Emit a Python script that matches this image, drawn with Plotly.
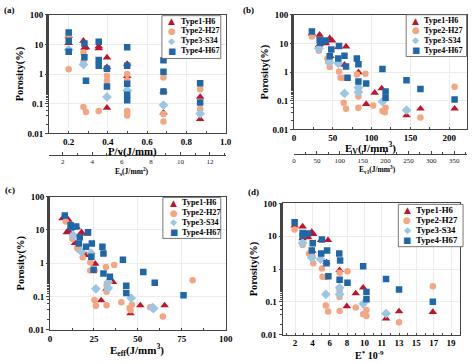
import plotly.graph_objects as go

W, H = 474, 364
def px(x): return x / W
def py(y): return 1 - y / H

FONT = "Liberation Serif"
C1, C2, C3, C4 = "#C0142A", "#F4A582", "#9CC6E2", "#1F67A8"
NAMES = ["Type1-H6", "Type2-H27", "Type3-S34", "Type4-H67"]

# ---------------- panel (a): P/v (J/mm) ----------------
a1_x = [0.2, 0.2, 0.275, 0.28, 0.288, 0.353, 0.353, 0.395, 0.395, 0.395, 0.498, 0.498, 0.683, 0.683, 0.87, 0.87]
a1_y = [19.3, 11.1, 13.2, 7.6, 8.0, 8.6, 7.4, 3.6, 1.7, 0.073, 2.2, 0.86, 0.26, 0.05, 0.17, 0.03]
a2_x = [0.2, 0.2, 0.275, 0.275, 0.275, 0.288, 0.353, 0.395, 0.395, 0.498, 0.498, 0.498, 0.498, 0.683, 0.683, 0.683, 0.87, 0.87]
a2_y = [17, 1.46, 5.3, 2.6, 0.078, 0.053, 0.057, 0.88, 0.59, 1.0, 0.62, 0.057, 0.04, 0.76, 0.045, 0.025, 0.31, 0.067]
a3_x = [0.2, 0.275, 0.395, 0.498, 0.683, 0.87]
a3_y = [6.6, 2.1, 0.17, 0.28, 0.09, 0.046]
a4_x = [0.2, 0.2, 0.2, 0.28, 0.28, 0.288, 0.353, 0.353, 0.353, 0.395, 0.395, 0.498, 0.498, 0.498, 0.498, 0.498, 0.683, 0.683, 0.683, 0.87, 0.87]
a4_y = [25, 13.2, 5.7, 10.8, 3.7, 0.6, 12.3, 3.0, 1.9, 1.5, 0.38, 8.0, 1.9, 0.47, 0.2, 0.13, 2.9, 1.2, 0.26, 0.49, 0.11]

# ---------------- panel (b): E_V (J/mm^3) ----------------
b1_x = [23, 33, 32, 41, 46, 49, 47, 57, 67, 65, 83, 93, 104, 113, 145, 163, 207]
b1_y = [22, 20, 8.5, 10, 15, 12.6, 3.6, 7.5, 7.8, 1.8, 0.98, 0.077, 0.19, 0.27, 0.031, 0.053, 0.053]
b2_x = [23, 32, 43, 46, 44, 58, 60, 63, 81, 92, 83, 83, 64, 67, 83, 102, 114, 117, 118, 163, 207]
b2_y = [17.6, 5.6, 3.0, 1.5, 2.3, 1.05, 0.63, 0.63, 0.83, 0.87, 0.14, 0.22, 0.085, 0.053, 0.057, 0.068, 0.044, 0.04, 0.057, 0.026, 0.31]
b3_x = [32, 46, 57, 65, 83, 83, 114, 145]
b3_y = [6.6, 2.2, 2.0, 0.18, 0.29, 0.2, 0.094, 0.047]
b4_x = [23, 33, 34, 41, 46, 48, 58, 57, 65, 67, 69, 81, 83, 83, 93, 114, 118, 118, 145, 163, 207]
b4_y = [26, 13.2, 10.5, 12.6, 3.6, 6.1, 8.1, 3.0, 3.7, 1.57, 0.64, 3.0, 1.89, 0.47, 0.4, 1.28, 0.21, 0.127, 0.52, 0.26, 0.11]

# ---------------- panel (c): E_eff (J/mm^3) ----------------
c1_x = [7.1, 10.4, 9.5, 10.4, 12.3, 15.1, 14.2, 17.9, 20.5, 21.0, 25.7, 32.2, 35.9, 29.1, 45.8, 51.4, 65.2]
c1_y = [22, 20, 8.5, 9.4, 11.3, 12.1, 4.0, 8.5, 1.76, 7.6, 0.96, 0.17, 0.27, 0.076, 0.031, 0.054, 0.054]
c2_x = [8.9, 12.7, 15.5, 16.5, 18.6, 22.9, 22.9, 25.3, 31.8, 36.5, 32.2, 32.2, 25.3, 26.1, 32.2, 40.6, 45.3, 46.6, 45.8, 57.0, 64.2, 81.2]
c2_y = [17.8, 5.4, 2.8, 2.5, 1.5, 1.05, 0.6, 0.6, 0.77, 0.89, 0.22, 0.14, 0.079, 0.053, 0.055, 0.067, 0.045, 0.057, 0.039, 0.048, 0.025, 0.31]
c3_x = [13.2, 17.9, 23.3, 26.1, 33.1, 33.1, 46.2, 58.3, 59.0]
c3_y = [6.8, 2.2, 2.0, 0.17, 0.27, 0.18, 0.09, 0.046, 0.044]
c4_x = [8.4, 11.7, 11.9, 14.9, 16.9, 16.4, 21.6, 20.5, 23.8, 23.5, 24.8, 29.8, 30.4, 30.4, 34.1, 41.5, 43.4, 43.4, 53.1, 59.6, 76.0]
c4_y = [27, 13.9, 11.9, 12.6, 6.0, 3.9, 8.5, 3.1, 3.9, 1.57, 0.64, 3.1, 1.97, 0.49, 0.39, 1.26, 0.21, 0.127, 0.54, 0.26, 0.11]

# ---------------- panel (d): E* 10^-9 (axis units) ----------------
d1_x = [1.95, 2.87, 2.87, 3.51, 3.93, 4.1, 4.0, 5.0, 5.8, 5.63, 7.14, 7.97, 9.0, 9.86, 12.5, 14.0, 17.9]
d1_y = [21, 19.7, 8.6, 9.2, 13.5, 11.5, 3.6, 7.6, 7.6, 1.6, 0.92, 0.073, 0.18, 0.27, 0.031, 0.051, 0.049]
d2_x = [1.95, 2.87, 3.62, 4.0, 4.1, 5.1, 5.17, 5.55, 7.14, 8.05, 7.14, 7.14, 5.55, 5.82, 7.14, 9.0, 9.86, 10.24, 10.24, 14.0, 17.9]
d2_y = [16, 5.4, 2.95, 2.5, 1.5, 1.03, 0.58, 0.57, 0.77, 0.86, 0.14, 0.22, 0.078, 0.051, 0.053, 0.067, 0.042, 0.057, 0.037, 0.024, 0.3]
d3_x = [2.87, 3.93, 4.95, 5.55, 7.14, 7.14, 9.86, 12.5]
d3_y = [6.2, 2.2, 2.0, 0.17, 0.27, 0.17, 0.087, 0.044]
d4_x = [1.95, 2.87, 2.87, 3.51, 4.04, 3.93, 5.1, 5.02, 5.7, 5.63, 5.85, 7.1, 7.2, 7.14, 8.05, 9.86, 10.24, 10.24, 12.5, 14.0, 17.9]
d4_y = [26.7, 12.6, 10.3, 12.0, 6.1, 3.7, 8.0, 2.95, 3.7, 1.5, 0.6, 2.95, 1.83, 0.47, 0.38, 1.21, 0.2, 0.12, 0.5, 0.24, 0.10]
d_tickvals = [2, 4, 6, 8, 10, 12, 14, 16, 18, 20]
d_ticktext = ["2", "4", "6", "8", "10", "11", "13", "15", "17", "19"]

y_tickvals = [0.01, 0.1, 1, 10, 100]
y_ticktext = ["0.01", "0.1", "1", "10", "100"]

STYLES = [
    dict(color=C1, symbol="triangle-up", size=7.5),
    dict(color=C2, symbol="circle", size=6.5),
    dict(color=C3, symbol="diamond", size=7.5),
    dict(color=C4, symbol="square", size=6.5),
]

panels = [
    ("x", "y", [(a1_x, a1_y), (a2_x, a2_y), (a3_x, a3_y), (a4_x, a4_y)]),
    ("x2", "y2", [(b1_x, b1_y), (b2_x, b2_y), (b3_x, b3_y), (b4_x, b4_y)]),
    ("x3", "y3", [(c1_x, c1_y), (c2_x, c2_y), (c3_x, c3_y), (c4_x, c4_y)]),
    ("x4", "y4", [(d1_x, d1_y), (d2_x, d2_y), (d3_x, d3_y), (d4_x, d4_y)]),
]

fig = go.Figure()
for xa, ya, series in panels:
    for k, (xs, ys) in enumerate(series):
        st = STYLES[k]
        fig.add_trace(go.Scatter(
            x=xs, y=ys, mode="markers", name=NAMES[k], xaxis=xa, yaxis=ya,
            showlegend=False, hoverinfo="skip",
            marker=dict(color=st["color"], symbol=st["symbol"], size=st["size"], line=dict(width=0)),
        ))

# empty traces so the secondary x axes are registered
fig.add_trace(go.Scatter(x=[], y=[], xaxis="x5", yaxis="y", showlegend=False))
fig.add_trace(go.Scatter(x=[], y=[], xaxis="x6", yaxis="y2", showlegend=False))

tickf = dict(family=FONT, size=9, color="black", weight="bold")
GRID = "#ececec"

def xax(domain, rng, anchor, **kw):
    d = dict(domain=domain, range=rng, anchor=anchor, showline=True, linecolor="#444", linewidth=1,
             mirror=True, ticks="inside", ticklen=2, tickcolor="#444", showgrid=True, gridcolor=GRID,
             gridwidth=1, zeroline=False, tickfont=tickf)
    d.update(kw)
    return d

def yax(domain, anchor):
    return dict(domain=domain, type="log", range=[-2, 2], anchor=anchor, showline=True, linecolor="#444",
                linewidth=1, mirror=True, ticks="outside", ticklen=3, tickcolor="#444",
                tickvals=y_tickvals, ticktext=y_ticktext, showgrid=True, gridcolor=GRID, zeroline=False,
                tickfont=tickf, minor=dict(ticks="outside", ticklen=2, tickcolor="#444", showgrid=False),
                title=dict(text="Porosity(%)", font=dict(family=FONT, size=10.5, color="black", weight="bold"),
                           standoff=1))

def sec_axis(over, pos, rng, dt, mdt):
    return dict(overlaying=over, anchor="free", position=py(pos), side="bottom", range=rng,
                showline=True, linecolor="#444", linewidth=1, ticks="inside", ticklen=3, tickcolor="#444",
                dtick=dt, tick0=0, showgrid=False, zeroline=False,
                minor=dict(ticks="inside", ticklen=2, dtick=mdt, tickcolor="#444"),
                tickfont=dict(family=FONT, size=7, color="#222"))

fig.update_layout(
    width=W, height=H, margin=dict(l=0, r=0, t=0, b=0),
    paper_bgcolor="white", plot_bgcolor="white", showlegend=False, hovermode=False,
    xaxis=xax([px(48), px(228)], [0.1, 1.0], "y", dtick=0.2, tick0=0.2, tickformat=".1f",
              minor=dict(ticks="inside", ticklen=2, dtick=0.1, tickcolor="#444", showgrid=False)),
    yaxis=yax([py(132), py(10)], "x"),
    xaxis2=xax([px(297.7), 1.0], [0, 223], "y2", dtick=50,
               minor=dict(ticks="inside", ticklen=2, dtick=25, tickcolor="#444", showgrid=False)),
    yaxis2=yax([py(128), py(10)], "x2"),
    xaxis3=xax([px(49), px(228)], [0, 100], "y3", dtick=25,
               minor=dict(ticks="inside", ticklen=2, dtick=12.5, tickcolor="#444", showgrid=False)),
    yaxis3=yax([py(334), py(197)], "x3"),
    xaxis4=xax([px(286), px(467)], [0.56, 21.05], "y4",
               tickmode="array", tickvals=d_tickvals, ticktext=d_ticktext,
               minor=dict(ticks="inside", ticklen=2, dtick=1, tick0=1, tickcolor="#444", showgrid=False)),
    yaxis4=yax([py(339), py(204)], "x4"),
    xaxis5=sec_axis("x", 154, [1.07, 13.07], 2, 1),
    xaxis6=sec_axis("x2", 153, [0, 378], 50, 25),
)

def note(text, x, y, size, weight="bold", xanchor="center", color="black", family=FONT, pad=1):
    fig.add_annotation(text=text, x=px(x), y=py(y), xref="paper", yref="paper", xanchor=xanchor,
                       yanchor="middle", showarrow=False, borderpad=pad,
                       font=dict(family=family, size=size, color=color, weight=weight))

# x-axis titles
note("P/v(J/mm)", 133, 150.5, 10.8, pad=0)
note("E<sub>s</sub>(J/mm<sup>2</sup>)", 133, 171, 7.5)
note("E<sub>V</sub>(J/mm<sup>3</sup>)", 376, 147.5, 11, pad=0)
note("E<sub>v1</sub>(J/mm<sup>3</sup>)", 383, 169, 7.5)
note("E<sub>eff</sub>(J/mm<sup>3</sup>)", 138, 354.5, 11, pad=0)
note("E<sup>*</sup> 10<sup>-9</sup>", 375, 359.5, 10, pad=0)

# panel labels
for lab, x, y in [("(a)", 0, 5), ("(b)", 244, 5), ("(c)", 1, 190), ("(d)", 249, 192)]:
    note(lab, x, y, 9, xanchor="left")

# compact legends (symbol + label per row) with a frame
GLYPHS = ["▲", "●", "◆", "■"]
GLYPH_SIZE = [9, 9, 9, 8.5]
COLORS = [C1, C2, C3, C4]
legends = [
    # box x0, x1, y0, y1, symbol x, text x, row ys, text size
    (163, 223, 11, 55, 173, 181, [16.5, 26.5, 37, 47], 8.2),
    (412, 473.5, 10, 53, 422, 429, [16, 26, 36, 46.5], 8.2),
    (164, 223, 198, 240, 175, 182, [203.5, 213.5, 223.5, 233.5], 8.2),
    (404, 470, 205, 248.5, 413, 421, [211.3, 221, 231.3, 241.3], 8.8),
]
for x0, x1, y0, y1, sx, tx, rows, ts in legends:
    fig.add_shape(type="rect", xref="paper", yref="paper", x0=px(x0), x1=px(x1), y0=py(y1), y1=py(y0),
                  line=dict(color="#555", width=0.8), fillcolor="white", layer="above")
    for k in range(4):
        note(GLYPHS[k], sx, rows[k], GLYPH_SIZE[k], weight="normal", color=COLORS[k],
             family="DejaVu Sans", pad=0)
        note(NAMES[k], tx, rows[k], ts, xanchor="left", pad=0)

fig.write_html("out.html", config={"displayModeBar": False, "staticPlot": True},
               post_script="document.body.style.margin='0px';document.body.style.overflow='hidden';")
